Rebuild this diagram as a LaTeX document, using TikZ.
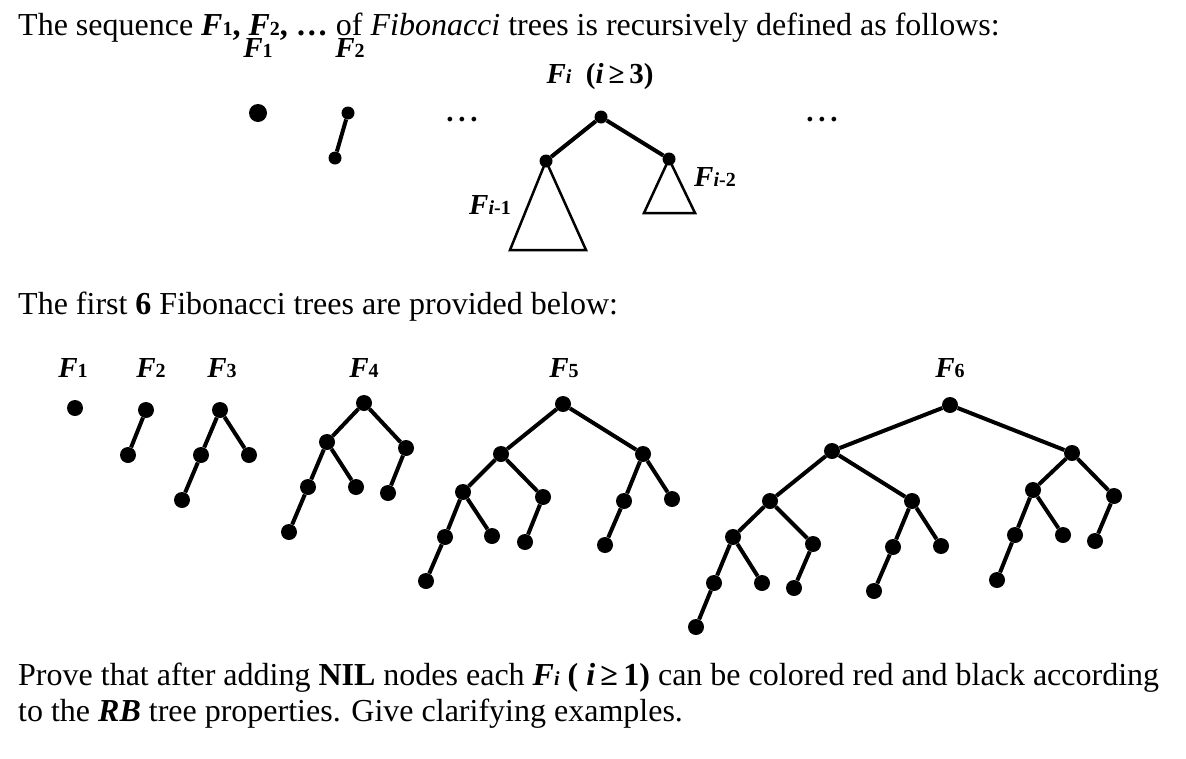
\documentclass[tikz,border=0pt]{standalone}
\usepackage{fontspec}
\setmainfont{Liberation Serif}
\newcommand{\Fb}[1]{\textbf{\textit{F}}{\fontsize{20}{20}\selectfont\textbf{#1}}}
\begin{document}
\begin{tikzpicture}[x=1pt,y=-1pt,
  d/.style={circle,fill=black,inner sep=0pt,minimum size=16pt},
  e/.style={line width=4pt},
  tx/.style={inner sep=0pt,anchor=base west,font=\fontsize{32}{36}\selectfont},
  lb/.style={inner sep=0pt,font=\fontsize{29}{32}\selectfont}]
\useasboundingbox (0,0) rectangle (1186,758);
\node[tx] (t1) at (18,35) {The sequence \Fb{1}\textbf{,} \Fb{2}\textbf{, \dots} of \textit{Fibonacci} trees is recursively defined as follows:};
\node[lb] (l1) at (258,48) {\Fb{1}};
\node[lb] (l2) at (350,48) {\Fb{2}};
\node[lb] (li) at (600,77) {\textbf{\textit{F}}{\fontsize{20}{20}\selectfont\textbf{\textit{i}}}\enspace\textbf{(\textit{i}\,≥\,3)}};
\node[d,minimum size=18pt] (a1) at (258,113) {};
\node[d,minimum size=13pt] (b1) at (348,113) {};
\node[d,minimum size=13pt] (b2) at (335,158) {};
\draw[e] (b1)--(b2);
\node[lb] (dd1) at (462,120) {\textbf{.\,.\,.}};
\node[lb] (dd2) at (822,120) {\textbf{.\,.\,.}};
\node[d,minimum size=13pt] (r) at (601,117) {};
\node[d,minimum size=13pt] (rl) at (546,161) {};
\node[d,minimum size=13pt] (rr) at (669,159) {};
\draw[e] (rl)--(r)--(rr);
\coordinate (t1a) at (510,250); \coordinate (t1b) at (586,250);
\coordinate (t2a) at (644,213); \coordinate (t2b) at (695,213);
\draw[line width=2.5pt,line join=miter] (rl.center)--(t1a)--(t1b)--cycle;
\draw[line width=2.5pt] (rr.center)--(t2a)--(t2b)--cycle;
\node[lb] (lm1) at (490,205) {\textbf{\textit{F}}{\fontsize{20}{20}\selectfont\textbf{\textit{i}-1}}};
\node[lb] (lm2) at (715,177) {\textbf{\textit{F}}{\fontsize{20}{20}\selectfont\textbf{\textit{i}-2}}};
\node[tx] (t2) at (18,314) {The first \textbf{6} Fibonacci trees are provided below:};
% labels
\node[lb] (L1) at (73,368) {\Fb{1}};
\node[lb] (L2) at (151,368) {\Fb{2}};
\node[lb] (L3) at (222,368) {\Fb{3}};
\node[lb] (L4) at (364,368) {\Fb{4}};
\node[lb] (L5) at (564,368) {\Fb{5}};
\node[lb] (L6) at (950,368) {\Fb{6}};
% F1
\node[d] (p1) at (75,408) {};
% F2
\node[d] (q1) at (146,410) {}; \node[d] (q2) at (128,455) {};
\draw[e] (q1)--(q2);
% F3
\node[d] (c) at (220,410) {}; \node[d] (cL) at (201,455) {}; \node[d] (cLL) at (182,500) {}; \node[d] (cR) at (249,455) {};
\draw[e] (cLL)--(cL)--(c)--(cR);
% F4
\node[d] (f) at (364,403) {}; \node[d] (fL) at (327,442) {}; \node[d] (fR) at (406,448) {};
\node[d] (fLL) at (308,487) {}; \node[d] (fLR) at (356,487) {}; \node[d] (fRL) at (388,493) {};
\node[d] (fLLL) at (289,532) {};
\draw[e] (fLLL)--(fLL)--(fL)--(f)--(fR)--(fRL) (fL)--(fLR);
% F5
\node[d] (g) at (563,404) {}; \node[d] (gL) at (501,454) {}; \node[d] (gR) at (643,454) {};
\node[d] (gLL) at (463,492) {}; \node[d] (gLR) at (543,497) {};
\node[d] (gLLL) at (445,537) {}; \node[d] (gLLR) at (492,536) {};
\node[d] (gLLLL) at (426,581) {}; \node[d] (gLRL) at (525,542) {};
\node[d] (gRL) at (624,501) {}; \node[d] (gRR) at (672,499) {}; \node[d] (gRLL) at (605,545) {};
\draw[e] (gLLLL)--(gLLL)--(gLL)--(gL)--(g)--(gR)--(gRL)--(gRLL) (gLL)--(gLLR) (gL)--(gLR)--(gLRL) (gR)--(gRR);
% F6
\node[d] (h) at (950,405) {}; \node[d] (hL) at (832,451) {}; \node[d] (hR) at (1072,453) {};
\node[d] (hLL) at (770,501) {}; \node[d] (hLR) at (912,501) {};
\node[d] (hLLL) at (733,537) {}; \node[d] (hLLR) at (813,544) {};
\node[d] (hLLLL) at (714,583) {}; \node[d] (hLLLR) at (762,583) {};
\node[d] (hLLLLL) at (696,627) {}; \node[d] (hLLRL) at (794,588) {};
\node[d] (hLRL) at (893,547) {}; \node[d] (hLRR) at (941,546) {}; \node[d] (hLRLL) at (874,591) {};
\node[d] (hRL) at (1033,490) {}; \node[d] (hRR) at (1114,496) {};
\node[d] (hRLL) at (1015,535) {}; \node[d] (hRLR) at (1063,535) {};
\node[d] (hRLLL) at (997,580) {}; \node[d] (hRRL) at (1095,541) {};
\draw[e] (hLLLLL)--(hLLLL)--(hLLL)--(hLL)--(hL)--(h)--(hR)--(hRL)--(hRLL)--(hRLLL)
  (hLLL)--(hLLLR) (hLL)--(hLLR)--(hLLRL) (hL)--(hLR)--(hLRL)--(hLRLL) (hLR)--(hLRR)
  (hRL)--(hRLR) (hR)--(hRR)--(hRRL);
\node[tx] (t3) at (18,685) {Prove that after adding \textbf{NIL} nodes each \textbf{\textit{F}}{\fontsize{20}{20}\selectfont\textbf{\textit{i}}} \textbf{( \textit{i}\,≥\,1)} can be colored red and black according};
\node[tx] (t4) at (18,721) {to the \textbf{\textit{RB}} tree properties. Give clarifying examples.};
\end{tikzpicture}
\end{document}
